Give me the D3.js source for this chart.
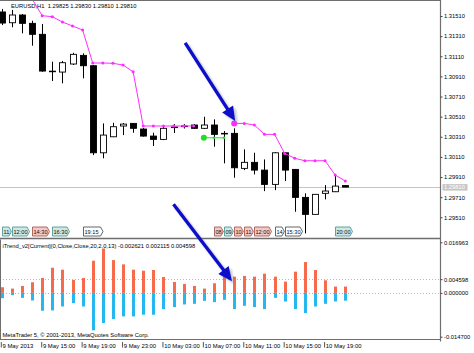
<!DOCTYPE html>
<html>
<head>
<meta charset="utf-8">
<script src="https://cdn.jsdelivr.net/npm/d3@7"></script>
<style>
	body { margin: 0; background: #fff; }
	svg { display: block; font-family: 'Liberation Sans', Arial, sans-serif; }
</style>
</head>
<body>
<div id="chart"></div>
<script>
// EURUSD H1 candles, one entry per bar
const opens = [1.3155, 1.31443, 1.3152, 1.31437, 1.31328, 1.30962, 1.30953, 1.31033, 1.31119, 1.31016,
	1.30151, 1.3031, 1.30417, 1.30443, 1.30387, 1.30317, 1.30284, 1.30402, 1.30417, 1.30427,
	1.30394, 1.30427, 1.30344, 1.30344, 1.29996, 1.30056, 1.29979, 1.29837, 1.30151, 1.29986,
	1.29708, 1.29539, 1.29748, 1.29764, 1.29825];
const highs = [1.3158, 1.3157, 1.3153, 1.31463, 1.3143, 1.31056, 1.31063, 1.31145, 1.31139, 1.31023,
	1.30443, 1.30449, 1.30446, 1.30446, 1.30397, 1.3035, 1.30407, 1.30436, 1.30436, 1.30436,
	1.30509, 1.30483, 1.30367, 1.30394, 1.30185, 1.30151, 1.30085, 1.30158, 1.30158, 1.29989,
	1.29748, 1.29741, 1.2983, 1.2993, 1.2983];
const lows = [1.3142, 1.31398, 1.31338, 1.31215, 1.30956, 1.30864, 1.30841, 1.31023, 1.30891, 1.30128,
	1.30096, 1.30307, 1.30327, 1.3035, 1.30312, 1.30218, 1.30277, 1.30347, 1.30392, 1.30387,
	1.30387, 1.30211, 1.30046, 1.29903, 1.29979, 1.29936, 1.2977, 1.2978, 1.2987, 1.29565,
	1.2935, 1.29537, 1.29688, 1.29761, 1.2981];
const closes = [1.3144, 1.3152, 1.31437, 1.31328, 1.30963, 1.30958, 1.31046, 1.31129, 1.31016, 1.30151,
	1.30327, 1.3041, 1.30436, 1.30394, 1.30317, 1.30284, 1.30394, 1.30407, 1.30414, 1.30394,
	1.30427, 1.30334, 1.30342, 1.30002, 1.30056, 1.29979, 1.29837, 1.30151, 1.29979, 1.29708,
	1.29539, 1.29738, 1.29771, 1.2982, 1.2981];

// stop line drawn over the candles (magenta), and the short green segment
const upperStop = [1.3205, 1.3198, 1.3187, 1.31679, 1.31513, 1.31503, 1.3145, 1.31411, 1.31371, 1.31043,
	1.31043, 1.3104, 1.31023, 1.30956, 1.30417, 1.30417, 1.30417, 1.30417, 1.30417, 1.30417,
	null, null, null, 1.30443, 1.30443, 1.30427, 1.30334, 1.30334, 1.30145, 1.30096,
	1.30072, 1.30072, 1.30072, 1.2993, 1.2987];
const lowerStop = [null, null, null, null, null, null, null, null, null, null,
	null, null, null, null, null, null, null, null, null, null,
	1.303, 1.303, 1.303, null, null, null, null, null, null, null,
	null, null, null, null, null];

// iTrend_v2 histogram
const trendUp = [0.00189, 0.00144, 0.00233, 0.00356, 0.005, 0.00844, 0.00778, 0.00433, 0.005, 0.01078,
	0.01489, 0.011, 0.00956, 0.00778, 0.00744, 0.00767, 0.00533, 0.00367, 0.003, 0.00233,
	0.00144, 0.00322, 0.00544, 0.00544, 0.00567, 0.00544, 0.00644, 0.00544, 0.00378, 0.00711,
	0.01033, 0.00767, 0.00422, 0.00211, 0.002115];
const trendDown = [-0.00178, -0.00078, -0.00167, -0.00256, -0.006, -0.00589, -0.00456, -0.00344, -0.00456, -0.01256,
	-0.01011, -0.00878, -0.00789, -0.00789, -0.00733, -0.00733, -0.00544, -0.00478, -0.00389, -0.00367,
	-0.00267, -0.00311, -0.00233, -0.00544, -0.00433, -0.00478, -0.00544, -0.00167, -0.00289, -0.00544,
	-0.00678, -0.00456, -0.00367, -0.00289, -0.002621];

const priceTicks = [1.3151, 1.3131, 1.3111, 1.3091, 1.3071, 1.3051, 1.3031, 1.3011, 1.2991, 1.2971, 1.2951];
const lastPrice = 1.2981;
const indicatorTicks = [0.016963, 0.004598, 0, -0.0147];
const indicatorLevels = [0.004598, 0];

const timeTickIndex = [0, 4, 8, 12, 16, 20, 24, 28, 32];
const timeTickLabels = ['9 May 2013', '9 May 15:00', '9 May 19:00', '9 May 23:00', '10 May 03:00',
	'10 May 07:00', '10 May 11:00', '10 May 15:00', '10 May 19:00'];

const eventIndex = [0, 1, 3, 5, 8, 21, 22, 23, 24, 25, 27, 28, 33];
const eventLabels = ['11:', '12:00', '14:30', '16:30', '19:15', '08:', '09:', '10:', '11:', '12:00', '14:', '15:30', '20:00'];
const eventKinds = ['teal', 'teal', 'pink', 'teal', 'white', 'pink', 'teal', 'pink', 'pink', 'pink', 'white', 'white', 'teal'];

class TerminalChart {
	constructor(_config) {
		this.config = {
			parentElement: _config.parentElement,
			width: _config.width || 474,
			height: _config.height || 353,
			plotRight: 440.5,
			main: { top: 0.5, bottom: 238.5 },
			sub: { top: 239.5, bottom: 339.5 },
		};
		this.kindColors = {
			teal: { fill: '#cde8e6', stroke: '#3f8f8c' },
			pink: { fill: '#f3c9c6', stroke: '#a04a48' },
			white: { fill: '#ffffff', stroke: '#404040' },
		};
		this.initVis();
	}

	initVis() {
		const c = this.config;
		this.svg = d3
			.select(c.parentElement)
			.append('svg')
			.attr('width', c.width)
			.attr('height', c.height);

		this.x = d3.scaleLinear().domain([0, 34]).range([1.8, 345.3]);
		this.y = d3.scaleLinear().domain([1.2951, 1.3151]).range([217.3, 16]);
		this.yInd = d3.scaleLinear().domain([-0.0147, 0.016963]).range([336.7, 242.3]);

		const defs = this.svg.append('defs');
		defs.append('clipPath').attr('id', 'clip-main')
			.append('rect')
			.attr('x', 0).attr('y', c.main.top)
			.attr('width', c.plotRight).attr('height', c.main.bottom - c.main.top);
		defs.append('clipPath').attr('id', 'clip-sub')
			.append('rect')
			.attr('x', 0).attr('y', c.sub.top)
			.attr('width', c.plotRight).attr('height', c.sub.bottom - c.sub.top);
		defs.append('filter').attr('id', 'blur')
			.append('feGaussianBlur').attr('stdDeviation', 1.2);

		this.mainG = this.svg.append('g').attr('clip-path', 'url(#clip-main)');
		this.subG = this.svg.append('g').attr('clip-path', 'url(#clip-sub)');

		this.updateVis();
	}

	updateVis() {
		const vis = this;
		const c = vis.config;
		const idx = d3.range(opens.length);

		// last price line
		vis.mainG.append('line')
			.attr('x1', 0).attr('x2', c.plotRight)
			.attr('y1', Math.round(vis.y(lastPrice)) + 0.5)
			.attr('y2', Math.round(vis.y(lastPrice)) + 0.5)
			.attr('stroke', '#c4c4c4');

		// candles
		const candle = vis.mainG.selectAll('.candle').data(idx).join('g').attr('class', 'candle');
		candle.append('line')
			.attr('x1', (i) => Math.round(vis.x(i)) + 0.5)
			.attr('x2', (i) => Math.round(vis.x(i)) + 0.5)
			.attr('y1', (i) => vis.y(highs[i]))
			.attr('y2', (i) => vis.y(lows[i]))
			.attr('stroke', '#000');
		candle.append('rect')
			.attr('x', (i) => Math.round(vis.x(i)) - 2.5)
			.attr('width', 6)
			.attr('y', (i) => vis.y(Math.max(opens[i], closes[i])))
			.attr('height', (i) => Math.max(0.6, Math.abs(vis.y(opens[i]) - vis.y(closes[i]))))
			.attr('fill', (i) => (closes[i] >= opens[i] ? '#fff' : '#000'))
			.attr('stroke', '#000')
			.attr('stroke-width', 0.9);

		// stop lines
		const lineFor = (arr) => d3.line()
			.defined((i) => arr[i] !== null)
			.x((i) => vis.x(i))
			.y((i) => vis.y(arr[i]));
		vis.mainG.append('path')
			.attr('d', lineFor(upperStop)(idx))
			.attr('fill', 'none').attr('stroke', '#ff2cff').attr('stroke-width', 1);
		vis.mainG.append('path')
			.attr('d', lineFor(lowerStop)(idx))
			.attr('fill', 'none').attr('stroke', '#22dd22').attr('stroke-width', 1);
		vis.mainG.selectAll('.up-dot')
			.data(idx.filter((i) => upperStop[i] !== null))
			.join('circle')
			.attr('cx', (i) => vis.x(i))
			.attr('cy', (i) => vis.y(upperStop[i]))
			.attr('r', (i) => (i === 23 ? 3 : 1.5))
			.attr('fill', '#ff2cff');
		vis.mainG.selectAll('.dn-dot')
			.data(idx.filter((i) => lowerStop[i] !== null))
			.join('circle')
			.attr('cx', (i) => vis.x(i))
			.attr('cy', (i) => vis.y(lowerStop[i]))
			.attr('r', (i) => (i === 20 ? 3 : 1.3))
			.attr('fill', '#22dd22');

		// event time labels along the bottom of the price window
		const evG = vis.mainG.selectAll('.event').data(eventIndex).join('g').attr('class', 'event');
		evG.each(function (d, k) {
			const x0 = Math.round(vis.x(d)) + 0.5;
			const next = k < eventIndex.length - 1 ? vis.x(eventIndex[k + 1]) : 999;
			const full = eventKinds[k] === 'white' && eventLabels[k] === '19:15' ? 19.5 : 17;
			const w = Math.min(full, next - vis.x(d) - 1.2);
			const y0 = 227, y1 = 236;
			const col = vis.kindColors[eventKinds[k]];
			d3.select(this).append('path')
				.attr('d', `M${x0},${y0}H${x0 + w - 2.5}L${x0 + w},${(y0 + y1) / 2}L${x0 + w - 2.5},${y1}H${x0}Z`)
				.attr('fill', col.fill)
				.attr('stroke', col.stroke)
				.attr('stroke-width', 0.8);
			d3.select(this).append('text')
				.attr('x', x0 + 1)
				.attr('y', 233.8)
				.attr('font-size', 5.6)
				.attr('fill', '#111')
				.text(eventLabels[k]);
		});

		// indicator levels
		vis.subG.selectAll('.level').data(indicatorLevels).join('line')
			.attr('x1', 0).attr('x2', c.plotRight)
			.attr('y1', (d) => Math.round(vis.yInd(d)) + 0.5)
			.attr('y2', (d) => Math.round(vis.yInd(d)) + 0.5)
			.attr('stroke', '#b8b8b8')
			.attr('stroke-dasharray', '1,2');

		// histogram
		vis.subG.selectAll('.bar-up').data(idx).join('rect')
			.attr('x', (i) => Math.round(vis.x(i)) - 1)
			.attr('width', 3)
			.attr('y', (i) => vis.yInd(trendUp[i]))
			.attr('height', (i) => vis.yInd(0) - vis.yInd(trendUp[i]))
			.attr('fill', '#f76a4c');
		vis.subG.selectAll('.bar-dn').data(idx).join('rect')
			.attr('x', (i) => Math.round(vis.x(i)) - 1)
			.attr('width', 3)
			.attr('y', vis.yInd(0))
			.attr('height', (i) => vis.yInd(trendDown[i]) - vis.yInd(0))
			.attr('fill', '#26b7ee');

		// window frames
		const frame = vis.svg.append('g').attr('fill', 'none').attr('stroke', '#6e6e6e');
		frame.append('line').attr('x1', 0).attr('x2', c.plotRight).attr('y1', c.main.top).attr('y2', c.main.top);
		frame.append('line').attr('x1', 0).attr('x2', c.plotRight).attr('y1', c.main.bottom).attr('y2', c.main.bottom)
			.attr('stroke-width', 1.4);
		frame.append('line').attr('x1', 0).attr('x2', c.plotRight).attr('y1', c.sub.bottom).attr('y2', c.sub.bottom);
		frame.append('line').attr('x1', c.plotRight).attr('x2', c.plotRight).attr('y1', 0).attr('y2', c.sub.bottom + 2)
			.attr('stroke-width', 1.2);
		frame.append('line').attr('x1', 0.5).attr('x2', 0.5).attr('y1', c.sub.top).attr('y2', c.sub.bottom);

		// price axis
		const priceAxis = d3.axisRight(vis.y)
			.tickValues(priceTicks)
			.tickFormat(d3.format('.5f'))
			.tickSize(2)
			.tickPadding(1.5);
		const pa = vis.svg.append('g').attr('transform', `translate(${c.plotRight},0)`).call(priceAxis);
		pa.select('.domain').remove();
		pa.selectAll('text').attr('font-size', 5.8).attr('fill', '#000').attr('font-family', null);
		pa.selectAll('line').attr('stroke', '#444');

		// last price tag
		const ly = vis.y(lastPrice);
		vis.svg.append('rect')
			.attr('x', 442.5).attr('y', ly - 3)
			.attr('width', 25).attr('height', 6.5)
			.attr('fill', '#c6c6c6');
		vis.svg.append('text')
			.attr('x', 444).attr('y', ly + 2)
			.attr('font-size', 5.8).attr('fill', '#fff')
			.text(d3.format('.5f')(lastPrice));

		// indicator axis
		const indAxis = d3.axisRight(vis.yInd)
			.tickValues(indicatorTicks)
			.tickFormat((d) => d.toFixed(6))
			.tickSize(2)
			.tickPadding(1.5);
		const ia = vis.svg.append('g').attr('transform', `translate(${c.plotRight},0)`).call(indAxis);
		ia.select('.domain').remove();
		ia.selectAll('text').attr('font-size', 5.8).attr('fill', '#000').attr('font-family', null);
		ia.selectAll('line').attr('stroke', '#444');

		// time axis
		const timeAxis = d3.axisBottom(vis.x)
			.tickValues(timeTickIndex)
			.tickFormat((d, i) => timeTickLabels[i])
			.tickSize(7);
		const ta = vis.svg.append('g').attr('transform', `translate(-1,${c.sub.bottom + 1})`).call(timeAxis);
		ta.select('.domain').remove();
		ta.selectAll('line').attr('stroke', '#555').attr('y1', 1.5);
		ta.selectAll('text')
			.attr('font-size', 5.9)
			.attr('font-family', null)
			.attr('fill', '#000')
			.attr('text-anchor', 'start')
			.attr('x', 1.2)
			.attr('y', 3.5)
			.attr('dy', '0.71em');

		// captions
		vis.svg.append('text')
			.attr('x', 11).attr('y', 8)
			.attr('font-size', 5.8).attr('fill', '#000')
			.attr('xml:space', 'preserve')
			.text('EURUSD,H1  ' + [opens[34], highs[34], lows[34], closes[34]].map(d3.format('.5f')).join(' '));
		vis.svg.append('text')
			.attr('x', 2.5).attr('y', 247.5)
			.attr('font-size', 5.8).attr('fill', '#000')
			.text('iTrend_v2[Current](0,Close,Close,20,2.0,13) ' +
				[trendDown[34], trendUp[34], indicatorLevels[0]].map((d) => d.toFixed(6)).join(' '));
		vis.svg.append('text')
			.attr('x', 2.5).attr('y', 337)
			.attr('font-size', 5.8).attr('fill', '#000')
			.text('MetaTrader 5, \u00a9 2001-2013, MetaQuotes Software Corp.');

		// blue annotation arrows, aimed at bar 23
		vis.drawArrow(vis.x(23) + 1, vis.y(upperStop[23]) - 2.5, -50, -78);
		vis.drawArrow(vis.x(23) - 2.2, vis.yInd(trendUp[23]) + 4.5, -58.5, -77);
	}

	drawArrow(tx, ty, dx, dy) {
		const len = Math.hypot(dx, dy);
		const ux = -dx / len, uy = -dy / len;
		const px = -uy, py = ux;
		const headL = 14, headW = 6.5;
		const bx = tx - ux * headL, by = ty - uy * headL;
		const drawOne = (g, color, off) => {
			g.append('line')
				.attr('x1', tx + dx + off).attr('y1', ty + dy + off)
				.attr('x2', bx + ux * 2 + off).attr('y2', by + uy * 2 + off)
				.attr('stroke', color).attr('stroke-width', 3.3);
			g.append('path')
				.attr('d', `M${tx + off},${ty + off}L${bx + px * headW + off},${by + py * headW + off}` +
					`L${bx - px * headW + off},${by - py * headW + off}Z`)
				.attr('fill', color);
		};
		const shadow = this.svg.append('g').attr('opacity', 0.45).attr('filter', 'url(#blur)');
		drawOne(shadow, '#7a7a90', 2.5);
		drawOne(this.svg.append('g'), '#0d0dcc', 0);
	}
}

const chart = new TerminalChart({ parentElement: '#chart' });
</script>
</body>
</html>
